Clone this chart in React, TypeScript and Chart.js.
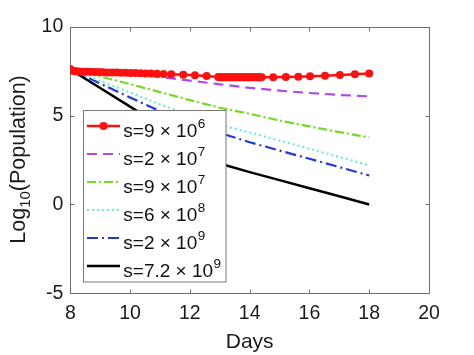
import React, { useEffect, useRef } from "react";
import { Chart, registerables } from "chart.js";
Chart.register(...registerables);

const FONT = '"Liberation Sans", Arial, Helvetica, sans-serif';

// Shared day grid for the smooth curves
const days = [8, 9, 10, 11, 12, 13, 14, 15, 16, 17, 18];

// s = 9e6 (solver output points, with markers)
const redDays = [
  8, 8.05, 8.12, 8.2, 8.3, 8.42, 8.55, 8.68, 8.82, 8.96, 9.1, 9.25, 9.4, 9.55,
  9.7, 9.86, 10.02, 10.18, 10.35, 10.52, 10.7, 10.9, 11.12, 11.38, 11.78, 12.17,
  12.56, 12.95, 13.0, 13.05, 13.1, 13.15, 13.2, 13.25, 13.3, 13.35, 13.4, 13.45,
  13.5, 13.55, 13.6, 13.65, 13.7, 13.75, 13.8, 13.85, 13.9, 13.95, 14.0, 14.05,
  14.1, 14.15, 14.2, 14.25, 14.3, 14.35, 14.4, 14.79, 15.21, 15.63, 16.02, 16.52,
  17.02, 17.52, 18.0,
];
const redValues = [
  7.62, 7.54, 7.5, 7.49, 7.48, 7.47, 7.47, 7.46, 7.45, 7.45, 7.44, 7.43, 7.43,
  7.42, 7.41, 7.41, 7.4, 7.39, 7.38, 7.37, 7.36, 7.35, 7.34, 7.32, 7.3, 7.27,
  7.22, 7.17, 7.16, 7.16, 7.16, 7.15, 7.15, 7.15, 7.15, 7.15, 7.15, 7.15, 7.15,
  7.15, 7.15, 7.15, 7.15, 7.15, 7.15, 7.15, 7.15, 7.15, 7.15, 7.15, 7.15, 7.15,
  7.15, 7.15, 7.15, 7.15, 7.15, 7.16, 7.17, 7.19, 7.21, 7.24, 7.28, 7.33, 7.37,
];
const purpleValues = [7.6, 7.5, 7.36, 7.17, 6.97, 6.76, 6.56, 6.4, 6.27, 6.16, 6.08];
const greenValues = [7.6, 7.2, 6.77, 6.32, 5.87, 5.44, 5.1, 4.72, 4.39, 4.07, 3.77];
const cyanValues = [7.6, 6.95, 6.3, 5.63, 5.03, 4.49, 4.05, 3.6, 3.13, 2.67, 2.2];
const blueValues = [7.6, 6.8, 6.02, 5.24, 4.58, 4.03, 3.5, 3.03, 2.57, 2.1, 1.63];
const blackValues = [7.6, 6.55, 5.5, 4.45, 3.38, 2.3, 1.82, 1.37, 0.91, 0.46, 0.0];

const legendMantissa = ["9", "2", "9", "6", "2", "7.2"];
const legendExponent = ["6", "7", "7", "8", "9", "9"];

const xTicks = [8, 10, 12, 14, 16, 18, 20];
const yTicks = [-5, 0, 5, 10];

const toPts = (xs: number[], ys: number[]) => xs.map((x, i) => ({ x, y: ys[i] }));

export default function App() {
  const ref = useRef<HTMLCanvasElement | null>(null);

  useEffect(() => {
    if (!ref.current) return;

    const framePlugin = {
      id: "frame",
      beforeDatasetsDraw(chart: any) {
        const { ctx, chartArea: a, scales } = chart;
        ctx.save();
        ctx.strokeStyle = "#6e6e6e";
        ctx.lineWidth = 1;
        const L = Math.round(a.left) + 0.5;
        const R = Math.round(a.right) + 0.5;
        const T = Math.round(a.top) + 0.5;
        const B = Math.round(a.bottom) + 0.5;
        ctx.strokeRect(L, T, R - L, B - T);
        ctx.beginPath();
        for (const v of xTicks) {
          const px = Math.round(scales.x.getPixelForValue(v)) + 0.5;
          ctx.moveTo(px, B);
          ctx.lineTo(px, B - 4);
          ctx.moveTo(px, T);
          ctx.lineTo(px, T + 4);
        }
        for (const v of yTicks) {
          const py = Math.round(scales.y.getPixelForValue(v)) + 0.5;
          ctx.moveTo(L, py);
          ctx.lineTo(L + 4, py);
          ctx.moveTo(R, py);
          ctx.lineTo(R - 4, py);
        }
        ctx.stroke();
        ctx.restore();
      },
      afterDatasetsDraw(chart: any) {
        const { ctx } = chart;
        ctx.save();
        // legend box
        const bx = 83.5, by = 110.5, bw = 142.5, bh = 171.5;
        ctx.fillStyle = "#ffffff";
        ctx.fillRect(bx, by, bw, bh);
        ctx.strokeStyle = "#7a7a7a";
        ctx.lineWidth = 1;
        ctx.strokeRect(bx, by, bw, bh);
        chart.data.datasets.forEach((ds: any, i: number) => {
          const ly = 126 + i * 28;
          ctx.save();
          ctx.strokeStyle = ds.borderColor;
          ctx.lineWidth = ds.borderWidth;
          ctx.setLineDash(ds.borderDash || []);
          ctx.beginPath();
          ctx.moveTo(87, ly);
          ctx.lineTo(120, ly);
          ctx.stroke();
          ctx.restore();
          if (ds.pointRadius > 0) {
            ctx.fillStyle = ds.borderColor;
            ctx.beginPath();
            ctx.arc(103.5, ly, ds.pointRadius, 0, Math.PI * 2);
            ctx.fill();
          }
          const base = ly + 10.7;
          ctx.fillStyle = "#111111";
          ctx.textBaseline = "alphabetic";
          ctx.textAlign = "left";
          ctx.font = `19px ${FONT}`;
          const main = `s=${legendMantissa[i]} \u00d7 10`;
          ctx.fillText(main, 123.3, base);
          const w = ctx.measureText(main).width;
          ctx.font = `13.5px ${FONT}`;
          ctx.fillText(legendExponent[i], 123.3 + w + 0.5, base - 9);
        });
        ctx.restore();
      },
      afterDraw(chart: any) {
        const { ctx, chartArea: a } = chart;
        ctx.save();
        ctx.fillStyle = "#1a1a1a";
        // x title
        ctx.font = `21px ${FONT}`;
        ctx.textAlign = "center";
        ctx.textBaseline = "alphabetic";
        ctx.fillText("Days", (a.left + a.right) / 2, 348.3);
        // y title with subscript
        const p1 = "Log";
        const p2 = "10";
        const p3 = "(Population)";
        ctx.font = `21.5px ${FONT}`;
        const w1 = ctx.measureText(p1).width;
        const w3 = ctx.measureText(p3).width;
        ctx.font = `15px ${FONT}`;
        const w2 = ctx.measureText(p2).width;
        const total = w1 + w2 + w3;
        ctx.translate(24.5, 159.5);
        ctx.rotate(-Math.PI / 2);
        ctx.textAlign = "left";
        let x = -total / 2;
        ctx.font = `21.5px ${FONT}`;
        ctx.fillText(p1, x, 0);
        x += w1;
        ctx.font = `15px ${FONT}`;
        ctx.fillText(p2, x, 5);
        x += w2;
        ctx.font = `21.5px ${FONT}`;
        ctx.fillText(p3, x, 0);
        ctx.restore();
      },
    };

    const mk = (label: string, xs: number[], ys: number[], color: string, width: number, dash: number[]) => ({
      label,
      data: toPts(xs, ys),
      showLine: true,
      borderColor: color,
      backgroundColor: color,
      borderWidth: width,
      borderDash: dash,
      pointRadius: 0,
      pointHoverRadius: 0,
      tension: 0,
    });

    const red: any = mk("s=9e6", redDays, redValues, "#ff1010", 2.5, []);
    red.pointRadius = 4;
    red.pointBorderWidth = 0;
    red.pointBackgroundColor = "#ff1010";

    const chart = new Chart(ref.current, {
      type: "scatter",
      data: {
        datasets: [
          red,
          mk("s=2e7", days, purpleValues, "#b347ee", 2.2, [10, 6]),
          mk("s=9e7", days, greenValues, "#6fdc1e", 2.2, [9, 3, 2, 3]),
          mk("s=6e8", days, cyanValues, "#6aeede", 2.2, [2, 3]),
          mk("s=2e9", days, blueValues, "#2038e0", 2.2, [11, 4, 2, 4]),
          mk("s=7.2e9", days, blackValues, "#000000", 2.5, []),
        ],
      },
      options: {
        animation: false,
        responsive: false,
        maintainAspectRatio: false,
        layout: { padding: { left: 0, top: 26.7, right: 45, bottom: 0 } },
        plugins: {
          legend: { display: false },
          tooltip: { enabled: false },
          title: { display: false },
        },
        events: [],
        scales: {
          x: {
            type: "linear",
            min: 8,
            max: 20,
            afterFit: (s: any) => {
              s.height = 61.7;
            },
            afterBuildTicks: (s: any) => {
              s.ticks = xTicks.map((v) => ({ value: v }));
            },
            grid: { display: false, drawTicks: false },
            border: { display: false },
            ticks: {
              padding: 8.5,
              color: "#1a1a1a",
              font: { family: FONT, size: 19.5 },
              maxRotation: 0,
              autoSkip: false,
              callback: (v: any) => String(v),
            },
          },
          y: {
            type: "linear",
            min: -5,
            max: 10,
            afterFit: (s: any) => {
              s.width = 70.3;
            },
            afterBuildTicks: (s: any) => {
              s.ticks = yTicks.map((v) => ({ value: v }));
            },
            grid: { display: false, drawTicks: false },
            border: { display: false },
            ticks: {
              padding: 7,
              color: "#1a1a1a",
              font: { family: FONT, size: 19.5 },
              autoSkip: false,
              callback: (v: any) => String(v),
            },
          },
        },
      },
      plugins: [framePlugin],
    });

    return () => chart.destroy();
  }, []);

  return (
    <div style={{ position: "absolute", left: 0, top: 0, width: 474, height: 355, background: "#fff" }}>
      <canvas ref={ref} width={474} height={355} style={{ width: 474, height: 355, display: "block" }} />
    </div>
  );
}
